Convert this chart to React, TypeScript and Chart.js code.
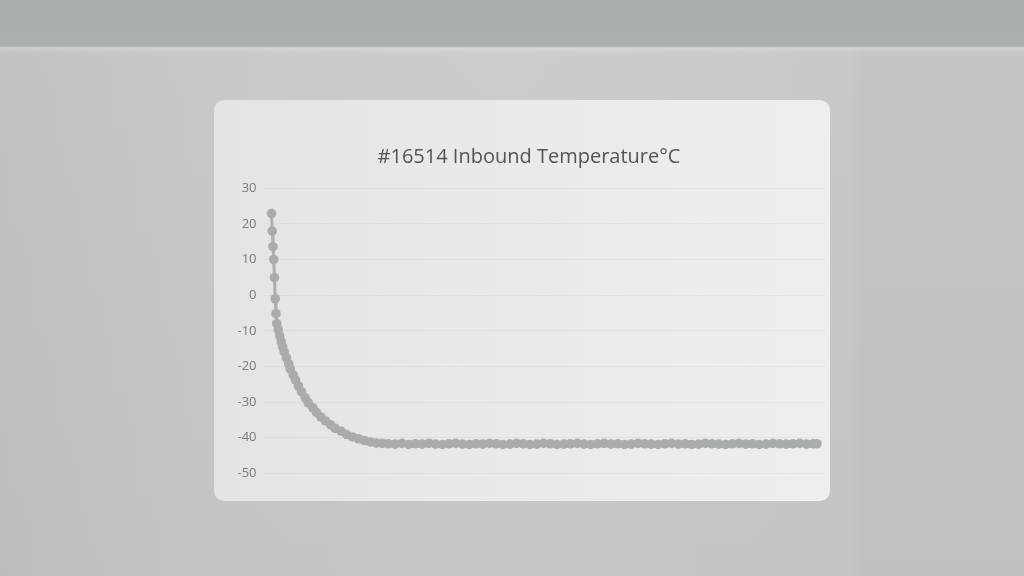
import React, { useEffect, useRef } from "react";
import { Chart, registerables } from "chart.js";

Chart.register(...registerables);

const chartTitle = "#16514 Inbound Temperature°C";

const yTicks = [30, 20, 10, 0, -10, -20, -30, -40, -50];

// sample number of each reading
const sampleIndex = [
  0, 1, 2, 3, 4, 5, 6, 7,
  9, 11, 13, 15, 17, 20, 23, 25, 29, 32, 36, 40, 45, 49, 55, 60, 66, 72, 79, 85, 93, 100, 108, 116, 124, 132, 140, 148, 156,
  165, 174, 183, 192, 201, 210, 219, 228, 237, 246, 255, 264, 273, 282, 291, 300, 309, 318, 327, 336,
  345, 354, 363, 372, 381, 390, 399, 408, 417, 426, 435, 444, 453, 462, 471, 480, 489, 498, 507, 516,
  525, 534, 543, 552, 561, 570, 579, 588, 597, 606, 615, 624, 633, 642, 651, 660, 669, 678, 687, 696,
  705, 714, 723, 728,
];

// temperature °C at each reading
const temperatureC = [
  22.9, 18.0, 13.6, 10.0, 4.9, -1.0, -5.2, -8.0,
  -9.7, -11.4, -13.1, -14.5, -15.9, -17.6, -19.3, -20.7, -22.4, -23.8, -25.5, -27.1, -28.8, -30.2, -31.6, -32.9, -34.2, -35.3, -36.4, -37.4, -38.2, -39.1, -39.8, -40.3, -40.8, -41.2, -41.5, -41.6, -41.7,
  -41.8, -41.6, -41.9, -41.7, -41.8, -41.6, -41.8, -41.9, -41.7, -41.6, -41.8, -41.9, -41.7, -41.8, -41.6, -41.7, -41.9, -41.8, -41.6, -41.7,
  -41.9, -41.8, -41.6, -41.7, -41.9, -41.8, -41.7, -41.6, -41.8, -41.9, -41.7, -41.6, -41.8, -41.7, -41.9, -41.8, -41.6, -41.7, -41.8, -41.9,
  -41.7, -41.6, -41.8, -41.7, -41.9, -41.8, -41.6, -41.7, -41.8, -41.9, -41.7, -41.6, -41.8, -41.7, -41.9, -41.8, -41.6, -41.7, -41.8, -41.7,
  -41.6, -41.8, -41.7, -41.7,
];

export default function App() {
  const canvasRef = useRef<HTMLCanvasElement | null>(null);

  useEffect(() => {
    const canvas = canvasRef.current;
    if (!canvas) return;
    const points = sampleIndex.map((x, i) => ({ x, y: temperatureC[i] }));
    const chart = new Chart(canvas, {
      type: "line",
      data: {
        datasets: [
          {
            label: "Inbound Temperature",
            data: points,
            borderColor: "#abafad",
            borderWidth: 3,
            pointRadius: 4.8,
            pointBackgroundColor: "#a8acaa",
            pointBorderWidth: 0,
            pointHoverRadius: 4.8,
            tension: 0,
          },
        ],
      },
      options: {
        responsive: false,
        animation: false,
        layout: { padding: { left: 17.3, right: 3.3, top: 0, bottom: 27.7 } },
        plugins: {
          legend: { display: false },
          tooltip: { enabled: false },
          title: {
            display: true,
            text: chartTitle,
            color: "#525455",
            font: { family: "'Open Sans'", size: 20, weight: "normal" },
            padding: { top: 45, bottom: 19.3 },
          },
        },
        scales: {
          x: {
            type: "linear",
            min: -12,
            max: 739,
            display: false,
          },
          y: {
            min: -50,
            max: 30,
            afterFit: (scale: any) => {
              scale.width = 31.2;
            },
            afterBuildTicks: (scale: any) => {
              scale.ticks = yTicks.map((v) => ({ value: v }));
            },
            border: { display: false },
            grid: { color: "rgba(0,0,0,0.035)", drawTicks: false },
            ticks: {
              color: "#797b7d",
              padding: 6,
              font: { family: "'Open Sans'", size: 13 },
            },
          },
        },
      },
    });
    return () => chart.destroy();
  }, []);

  return (
    <div
      style={{
        position: "fixed",
        left: 0,
        top: 0,
        width: 1024,
        height: 576,
        overflow: "hidden",
        background:
          "linear-gradient(180deg, #a7aeaa 0px, #abb1ae 46px, #d3d5d6 48px, #c7c9ca 54px, #c2c4c5 576px)",
      }}
    >
      <div
        style={{
          position: "absolute",
          left: 0,
          top: 48,
          width: 1024,
          height: 528,
          background:
            "linear-gradient(90deg, rgba(0,0,0,0.04) 0px, rgba(0,0,0,0) 200px, rgba(255,255,255,0.06) 500px, rgba(0,0,0,0) 850px, rgba(0,0,0,0.02) 860px)",
        }}
      />
      <div
        style={{
          position: "absolute",
          left: 214,
          top: 100,
          width: 616,
          height: 401,
          borderRadius: 10,
          background: "linear-gradient(90deg, #e3e4e4 0%, #e9eaea 50%, #eeeeee 100%)",
          overflow: "hidden",
        }}
      >
        <canvas
          ref={canvasRef}
          width={616}
          height={401}
          style={{ display: "block", filter: "blur(0.4px)" }}
        />
      </div>
    </div>
  );
}
